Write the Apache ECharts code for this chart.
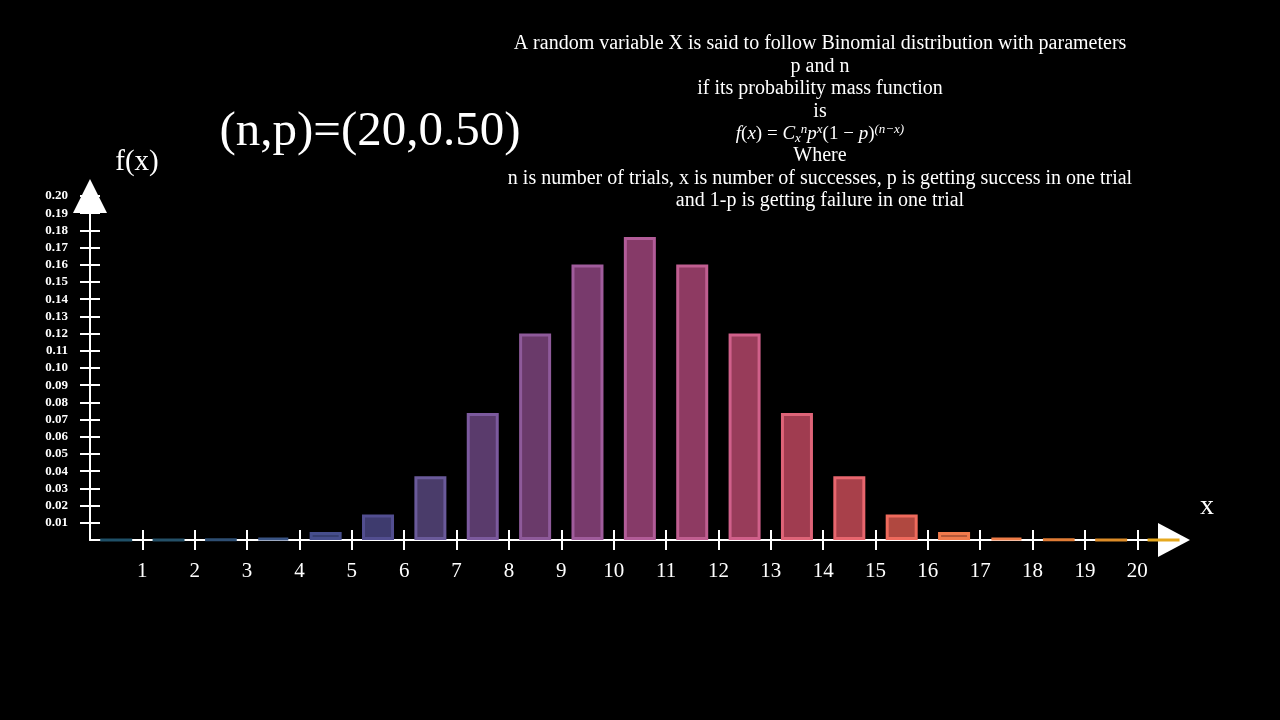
<!DOCTYPE html>
<html>
<head>
<meta charset="utf-8">
<script src="https://cdn.jsdelivr.net/npm/echarts@6/dist/echarts.min.js"></script>
<style>
html,body{margin:0;padding:0;background:#000;}
#chart{width:1280px;height:720px;}
</style>
</head>
<body>
<div id="chart"></div>
<script>
// Data
const successes = [0,1,2,3,4,5,6,7,8,9,10,11,12,13,14,15,16,17,18,19,20];
const probabilities = [0.000001,0.00002,0.00018,0.0011,0.0046,0.0148,0.0370,0.0739,0.1201,0.1602,0.1762,
                       0.1602,0.1201,0.0739,0.0370,0.0148,0.0046,0.0011,0.00018,0.00002,0.000001];
const xTickValues = [1,2,3,4,5,6,7,8,9,10,11,12,13,14,15,16,17,18,19,20];
const yTickValues = [0.01,0.02,0.03,0.04,0.05,0.06,0.07,0.08,0.09,0.10,0.11,0.12,0.13,0.14,0.15,0.16,0.17,0.18,0.19,0.20];

// Styles
const barStroke = ['#1f5068','#245068','#2e4e72','#3a5484','#464e8c','#524e90','#6a5a9a','#7c5a9e','#8e5a9a','#a05c9c','#b25c98',
                   '#c05e90','#d0608a','#de6478','#e8666e','#ef6a5c','#f07a4c','#ee7c48','#e07c36','#dc8c28','#e6a81e'];
const barFill = ['#1f5068','#245068','#2e4e72','#3a5484','#363e70','#3e3b6e','#4a3c6a','#5a3b6c','#6a3a6a','#783a6c','#863a68',
                 '#8e3a62','#983c5a','#a03c50','#a8404a','#b04840','#b45838','#ee7c48','#e07c36','#dc8c28','#e6a81e'];

const serif = "'Liberation Serif','DejaVu Serif',serif";

const chart = echarts.init(document.getElementById('chart'));

const barData = successes.map((k, i) => ({
  value: [k + 0.5, probabilities[i]],
  itemStyle: { color: barFill[i], borderColor: barStroke[i], borderWidth: 3 }
}));

const xAxisBase = {
  type: 'value', min: 0, max: 20.7, interval: 1, position: 'bottom',
  splitLine: { show: false }
};
const yAxisBase = {
  type: 'value', min: 0, max: 0.2, interval: 0.01, position: 'left',
  splitLine: { show: false }
};

const option = {
  backgroundColor: '#000',
  animation: false,
  grid: { left: 90, right: 106, top: 196, bottom: 180 },
  xAxis: [
    Object.assign({}, xAxisBase, {
      axisLine: { show: true, lineStyle: { color: '#fff', width: 2 }, symbol: ['none', 'triangle'], symbolSize: [34, 32] },
      axisTick: { show: true, inside: false, length: 10, lineStyle: { color: '#fff', width: 2 }, customValues: xTickValues },
      axisLabel: { show: true, margin: 21, color: '#fff', fontFamily: serif, fontSize: 21, customValues: xTickValues,
                   formatter: v => String(Math.round(v)) }
    }),
    Object.assign({}, xAxisBase, {
      axisLine: { show: false },
      axisTick: { show: true, inside: true, length: 10, lineStyle: { color: '#fff', width: 2 }, customValues: xTickValues },
      axisLabel: { show: false }
    })
  ],
  yAxis: [
    Object.assign({}, yAxisBase, {
      axisLine: { show: true, lineStyle: { color: '#fff', width: 2 }, symbol: ['none', 'triangle'], symbolSize: [34, 34] },
      axisTick: { show: true, inside: false, length: 10, lineStyle: { color: '#fff', width: 2 }, customValues: yTickValues },
      axisLabel: { show: true, margin: 22, color: '#fff', fontFamily: serif, fontSize: 13, fontWeight: 'bold', customValues: yTickValues,
                   formatter: v => v.toFixed(2) }
    }),
    Object.assign({}, yAxisBase, {
      axisLine: { show: false },
      axisTick: { show: true, inside: true, length: 10, lineStyle: { color: '#fff', width: 2 }, customValues: yTickValues },
      axisLabel: { show: false }
    })
  ],
  series: [{
    type: 'bar',
    xAxisIndex: 0, yAxisIndex: 0,
    barWidth: 32,
    clip: false,
    data: barData
  }],
  graphic: [
    { type: 'text', x: 370, y: 132, style: { text: '(n,p)=(20,0.50)', fill: '#fff', fontFamily: serif, fontSize: 49, align: 'center', verticalAlign: 'middle' } },
    { type: 'text', x: 137, y: 162, style: { text: 'f(x)', fill: '#fff', fontFamily: serif, fontSize: 29, align: 'center', verticalAlign: 'middle' } },
    { type: 'text', x: 1207, y: 507, style: { text: 'x', fill: '#fff', fontFamily: serif, fontSize: 28, align: 'center', verticalAlign: 'middle' } },
    { type: 'text', x: 820, y: 33, style: {
        text: 'A random variable X is said to follow Binomial distribution with parameters\np and n\nif its probability mass function\nis\n' +
              '{i|f}{m|(}{i|x}{m|) = }{i|C}{sub|x}{sup|n}{i|p}{sup|x}{m|(1 − }{i|p}{m|)}{sup|(n−x)}\n' +
              'Where\nn is number of trials, x is number of successes, p is getting success in one trial\nand 1-p is getting failure in one trial',
        fill: '#fff', fontFamily: serif, fontSize: 20, lineHeight: 22.4, align: 'center', verticalAlign: 'top',
        rich: {
          i: { fontFamily: serif, fontSize: 19, fontStyle: 'italic', fill: '#fff', lineHeight: 22.4 },
          m: { fontFamily: serif, fontSize: 19, fill: '#fff', lineHeight: 22.4 },
          sup: { fontFamily: serif, fontSize: 13, fontStyle: 'italic', fill: '#fff', lineHeight: 12, verticalAlign: 'top' },
          sub: { fontFamily: serif, fontSize: 13, fontStyle: 'italic', fill: '#fff', lineHeight: 12, verticalAlign: 'bottom' }
        }
    } }
  ]
};
chart.setOption(option);
</script>
</body>
</html>
